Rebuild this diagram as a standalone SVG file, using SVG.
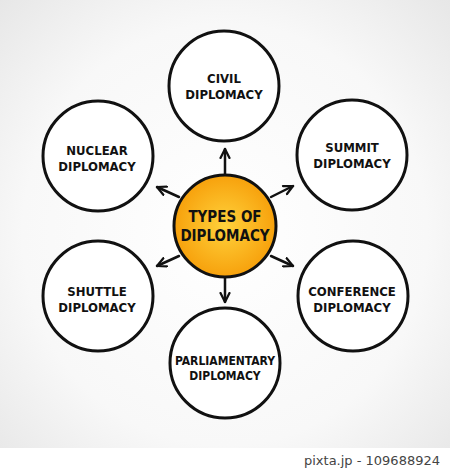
<svg xmlns="http://www.w3.org/2000/svg" width="450" height="469" viewBox="0 0 450 469">
<defs>
<radialGradient id="bg" cx="0.5" cy="0.5" r="0.75">
<stop offset="0" stop-color="#ffffff"/>
<stop offset="0.6" stop-color="#f8f8f8"/>
<stop offset="1" stop-color="#e4e4e4"/>
</radialGradient>
<radialGradient id="orange" cx="0.5" cy="0.5" r="0.5">
<stop offset="0" stop-color="#ffd23c"/>
<stop offset="1" stop-color="#f7a10c"/>
</radialGradient>
<marker id="arr" viewBox="0 0 10 10" refX="9" refY="5" markerWidth="4.5" markerHeight="4.5" orient="auto" markerUnits="strokeWidth">
<path d="M1,1 L9,5 L1,9" fill="none" stroke="#111" stroke-width="2" stroke-linecap="round" stroke-linejoin="round"/>
</marker>
<style>
.node circle{fill:#fff;stroke:#111;stroke-width:3}
.lbl{font-family:"DejaVu Sans Condensed","DejaVu Sans",sans-serif;font-weight:bold;fill:#111;text-anchor:middle;font-size:13px}
.conn line{stroke:#111;stroke-width:2.5;stroke-linecap:round;marker-end:url(#arr)}
</style>
</defs>
<rect width="450" height="469" fill="url(#bg)"/>
<rect x="0" y="448" width="450" height="21" fill="#fff"/>
<g class="conn">
<line x1="225" y1="174" x2="225" y2="149"/>
<line x1="225" y1="278" x2="225" y2="302"/>
<line x1="179" y1="197" x2="157" y2="187"/>
<line x1="271" y1="197" x2="293" y2="186"/>
<line x1="179" y1="256" x2="157" y2="266"/>
<line x1="271" y1="256" x2="293" y2="266"/>
</g>
<g id="center">
<circle cx="225" cy="226" r="51" fill="url(#orange)" stroke="#111" stroke-width="3"/>
<text class="lbl" x="225" y="222" style="font-size:15px">TYPES OF</text>
<text class="lbl" x="225" y="241" style="font-size:15px">DIPLOMACY</text>
</g>
<g id="civil" class="node">
<circle cx="224" cy="86" r="55"/>
<text class="lbl" x="224" y="83">CIVIL</text>
<text class="lbl" x="224" y="99">DIPLOMACY</text>
</g>
<g id="nuclear" class="node">
<circle cx="98" cy="156" r="55"/>
<text class="lbl" x="97" y="155">NUCLEAR</text>
<text class="lbl" x="97" y="171">DIPLOMACY</text>
</g>
<g id="summit" class="node">
<circle cx="352" cy="155" r="55"/>
<text class="lbl" x="352" y="152">SUMMIT</text>
<text class="lbl" x="352" y="168">DIPLOMACY</text>
</g>
<g id="shuttle" class="node">
<circle cx="98" cy="296" r="55"/>
<text class="lbl" x="97" y="296">SHUTTLE</text>
<text class="lbl" x="97" y="312">DIPLOMACY</text>
</g>
<g id="conference" class="node">
<circle cx="353" cy="296" r="55"/>
<text class="lbl" x="352" y="296">CONFERENCE</text>
<text class="lbl" x="352" y="312">DIPLOMACY</text>
</g>
<g id="parliamentary" class="node">
<circle cx="225" cy="363" r="55"/>
<text class="lbl" x="225" y="365" style="font-size:12px">PARLIAMENTARY</text>
<text class="lbl" x="225" y="380" style="font-size:12px">DIPLOMACY</text>
</g>
<text x="440" y="465" text-anchor="end" font-family="'DejaVu Sans',sans-serif" font-size="13" fill="#444">pixta.jp - 109688924</text>
</svg>
